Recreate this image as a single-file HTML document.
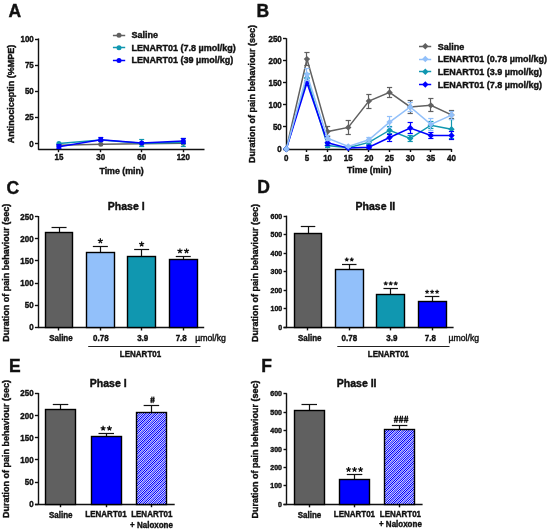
<!DOCTYPE html><html><head><meta charset="utf-8"><style>html,body{margin:0;padding:0;background:#fff;}svg{display:block;will-change:transform;filter:blur(0.3px);}text{font-family:"Liberation Sans",sans-serif;fill:#111;stroke:#111;stroke-width:0.4px;}</style></head><body>
<svg width="550" height="531" viewBox="0 0 550 531">
<defs><pattern id="chk" patternUnits="userSpaceOnUse" width="2" height="2"><rect width="2" height="2" fill="#d0d0ff"/><rect width="1" height="1" fill="#0000ff"/><rect x="1" y="1" width="1" height="1" fill="#0000ff"/></pattern><pattern id="stripe" patternUnits="userSpaceOnUse" width="4.6" height="4.6" patternTransform="rotate(45)"><rect width="1.6" height="4.6" fill="#8080ff"/></pattern></defs>
<rect width="550" height="531" fill="#fff"/>
<text x="8.60" y="17.00" font-size="17.5" text-anchor="start" font-weight="bold" >A</text>
<text x="256.40" y="16.70" font-size="17.5" text-anchor="start" font-weight="bold" >B</text>
<text x="6.40" y="193.60" font-size="17.5" text-anchor="start" font-weight="bold" >C</text>
<text x="257.20" y="192.90" font-size="17.5" text-anchor="start" font-weight="bold" >D</text>
<text x="9.00" y="372.40" font-size="17.5" text-anchor="start" font-weight="bold" >E</text>
<text x="261.20" y="372.10" font-size="17.5" text-anchor="start" font-weight="bold" >F</text>
<line x1="38.50" y1="38.40" x2="38.50" y2="149.80" stroke="#111" stroke-width="1.4"/>
<line x1="35.00" y1="39.50" x2="38.30" y2="39.50" stroke="#111" stroke-width="1.4"/>
<text transform="translate(33.80,41.90) scale(0.93,1)" font-size="8.6" text-anchor="end" font-weight="bold" >100</text>
<line x1="35.00" y1="65.50" x2="38.30" y2="65.50" stroke="#111" stroke-width="1.4"/>
<text transform="translate(33.80,68.08) scale(0.93,1)" font-size="8.6" text-anchor="end" font-weight="bold" >75</text>
<line x1="35.00" y1="91.50" x2="38.30" y2="91.50" stroke="#111" stroke-width="1.4"/>
<text transform="translate(33.80,94.25) scale(0.93,1)" font-size="8.6" text-anchor="end" font-weight="bold" >50</text>
<line x1="35.00" y1="117.50" x2="38.30" y2="117.50" stroke="#111" stroke-width="1.4"/>
<text transform="translate(33.80,120.42) scale(0.93,1)" font-size="8.6" text-anchor="end" font-weight="bold" >25</text>
<line x1="35.00" y1="143.50" x2="38.30" y2="143.50" stroke="#111" stroke-width="1.4"/>
<text transform="translate(33.80,146.60) scale(0.93,1)" font-size="8.6" text-anchor="end" font-weight="bold" >0</text>
<line x1="38.30" y1="149.50" x2="204.50" y2="149.50" stroke="#111" stroke-width="1.4"/>
<line x1="58.50" y1="149.20" x2="58.50" y2="152.20" stroke="#111" stroke-width="1.4"/>
<line x1="100.50" y1="149.20" x2="100.50" y2="152.20" stroke="#111" stroke-width="1.4"/>
<line x1="141.50" y1="149.20" x2="141.50" y2="152.20" stroke="#111" stroke-width="1.4"/>
<line x1="183.50" y1="149.20" x2="183.50" y2="152.20" stroke="#111" stroke-width="1.4"/>
<text transform="translate(58.90,160.30) scale(0.93,1)" font-size="8.6" text-anchor="middle" font-weight="bold" >15</text>
<text transform="translate(100.80,160.30) scale(0.93,1)" font-size="8.6" text-anchor="middle" font-weight="bold" >30</text>
<text transform="translate(141.70,160.30) scale(0.93,1)" font-size="8.6" text-anchor="middle" font-weight="bold" >60</text>
<text transform="translate(183.30,160.30) scale(0.93,1)" font-size="8.6" text-anchor="middle" font-weight="bold" >120</text>
<text x="121.60" y="173.80" font-size="8.8" text-anchor="middle" font-weight="bold" >Time (min)</text>
<text transform="translate(13.80,94.00) rotate(-90)" font-size="9" text-anchor="middle" font-weight="bold">Antinociceptin (%MPE)</text>
<polyline points="58.90,145.17 100.80,144.22 141.70,143.70 183.30,143.18" fill="none" stroke="#606060" stroke-width="1.5"/>
<circle cx="58.90" cy="145.17" r="2.5" fill="#606060"/>
<circle cx="100.80" cy="144.22" r="2.5" fill="#606060"/>
<circle cx="141.70" cy="143.70" r="2.5" fill="#606060"/>
<circle cx="183.30" cy="143.18" r="2.5" fill="#606060"/>
<polyline points="58.90,143.49 100.80,139.93 141.70,143.18 183.30,142.13" fill="none" stroke="#1097b0" stroke-width="1.5"/>
<circle cx="58.90" cy="143.49" r="2.5" fill="#1097b0"/>
<circle cx="100.80" cy="139.93" r="2.5" fill="#1097b0"/>
<line x1="141.50" y1="139.41" x2="141.50" y2="146.95" stroke="#1097b0" stroke-width="1.2"/>
<line x1="139.20" y1="139.50" x2="144.20" y2="139.50" stroke="#1097b0" stroke-width="1.2"/>
<line x1="139.20" y1="146.50" x2="144.20" y2="146.50" stroke="#1097b0" stroke-width="1.2"/>
<circle cx="141.70" cy="143.18" r="2.5" fill="#1097b0"/>
<line x1="183.50" y1="138.15" x2="183.50" y2="146.11" stroke="#1097b0" stroke-width="1.2"/>
<line x1="180.80" y1="138.50" x2="185.80" y2="138.50" stroke="#1097b0" stroke-width="1.2"/>
<line x1="180.80" y1="146.50" x2="185.80" y2="146.50" stroke="#1097b0" stroke-width="1.2"/>
<circle cx="183.30" cy="142.13" r="2.5" fill="#1097b0"/>
<polyline points="58.90,146.74 100.80,139.72 141.70,143.07 183.30,141.08" fill="none" stroke="#0000ff" stroke-width="1.5"/>
<line x1="58.50" y1="144.96" x2="58.50" y2="148.52" stroke="#0000ff" stroke-width="1.2"/>
<line x1="56.40" y1="144.50" x2="61.40" y2="144.50" stroke="#0000ff" stroke-width="1.2"/>
<line x1="56.40" y1="148.50" x2="61.40" y2="148.50" stroke="#0000ff" stroke-width="1.2"/>
<circle cx="58.90" cy="146.74" r="2.5" fill="#0000ff"/>
<line x1="100.50" y1="137.63" x2="100.50" y2="141.82" stroke="#0000ff" stroke-width="1.2"/>
<line x1="98.30" y1="137.50" x2="103.30" y2="137.50" stroke="#0000ff" stroke-width="1.2"/>
<line x1="98.30" y1="141.50" x2="103.30" y2="141.50" stroke="#0000ff" stroke-width="1.2"/>
<circle cx="100.80" cy="139.72" r="2.5" fill="#0000ff"/>
<circle cx="141.70" cy="143.07" r="2.5" fill="#0000ff"/>
<line x1="183.50" y1="138.26" x2="183.50" y2="143.91" stroke="#0000ff" stroke-width="1.2"/>
<line x1="180.80" y1="138.50" x2="185.80" y2="138.50" stroke="#0000ff" stroke-width="1.2"/>
<line x1="180.80" y1="143.50" x2="185.80" y2="143.50" stroke="#0000ff" stroke-width="1.2"/>
<circle cx="183.30" cy="141.08" r="2.5" fill="#0000ff"/>
<line x1="112.90" y1="35.50" x2="125.20" y2="35.50" stroke="#606060" stroke-width="1.5"/>
<circle cx="119.00" cy="35.30" r="2.5" fill="#606060"/>
<text x="131.60" y="38.30" font-size="9" text-anchor="start" font-weight="bold" >Saline</text>
<line x1="112.90" y1="47.50" x2="125.20" y2="47.50" stroke="#1097b0" stroke-width="1.5"/>
<circle cx="119.00" cy="47.85" r="2.5" fill="#1097b0"/>
<text x="131.60" y="50.85" font-size="9" text-anchor="start" font-weight="bold" >LENART01 (7.8 µmol/kg)</text>
<line x1="112.90" y1="60.50" x2="125.20" y2="60.50" stroke="#0000ff" stroke-width="1.5"/>
<circle cx="119.00" cy="60.40" r="2.5" fill="#0000ff"/>
<text x="131.60" y="63.40" font-size="9" text-anchor="start" font-weight="bold" >LENART01 (39 µmol/kg)</text>
<line x1="286.50" y1="38.20" x2="286.50" y2="149.60" stroke="#111" stroke-width="1.4"/>
<line x1="283.00" y1="38.50" x2="286.30" y2="38.50" stroke="#111" stroke-width="1.4"/>
<text transform="translate(281.80,41.70) scale(0.93,1)" font-size="8.6" text-anchor="end" font-weight="bold" >250</text>
<line x1="283.00" y1="60.50" x2="286.30" y2="60.50" stroke="#111" stroke-width="1.4"/>
<text transform="translate(281.80,63.74) scale(0.93,1)" font-size="8.6" text-anchor="end" font-weight="bold" >200</text>
<line x1="283.00" y1="82.50" x2="286.30" y2="82.50" stroke="#111" stroke-width="1.4"/>
<text transform="translate(281.80,85.78) scale(0.93,1)" font-size="8.6" text-anchor="end" font-weight="bold" >150</text>
<line x1="283.00" y1="104.50" x2="286.30" y2="104.50" stroke="#111" stroke-width="1.4"/>
<text transform="translate(281.80,107.82) scale(0.93,1)" font-size="8.6" text-anchor="end" font-weight="bold" >100</text>
<line x1="283.00" y1="126.50" x2="286.30" y2="126.50" stroke="#111" stroke-width="1.4"/>
<text transform="translate(281.80,129.86) scale(0.93,1)" font-size="8.6" text-anchor="end" font-weight="bold" >50</text>
<line x1="283.00" y1="149.50" x2="286.30" y2="149.50" stroke="#111" stroke-width="1.4"/>
<text transform="translate(281.80,151.90) scale(0.93,1)" font-size="8.6" text-anchor="end" font-weight="bold" >0</text>
<line x1="286.30" y1="149.50" x2="451.50" y2="149.50" stroke="#111" stroke-width="1.4"/>
<line x1="306.50" y1="149.00" x2="306.50" y2="152.00" stroke="#111" stroke-width="1.4"/>
<line x1="327.50" y1="149.00" x2="327.50" y2="152.00" stroke="#111" stroke-width="1.4"/>
<line x1="348.50" y1="149.00" x2="348.50" y2="152.00" stroke="#111" stroke-width="1.4"/>
<line x1="368.50" y1="149.00" x2="368.50" y2="152.00" stroke="#111" stroke-width="1.4"/>
<line x1="389.50" y1="149.00" x2="389.50" y2="152.00" stroke="#111" stroke-width="1.4"/>
<line x1="410.50" y1="149.00" x2="410.50" y2="152.00" stroke="#111" stroke-width="1.4"/>
<line x1="430.50" y1="149.00" x2="430.50" y2="152.00" stroke="#111" stroke-width="1.4"/>
<line x1="451.50" y1="149.00" x2="451.50" y2="152.00" stroke="#111" stroke-width="1.4"/>
<line x1="286.50" y1="149.00" x2="286.50" y2="152.00" stroke="#111" stroke-width="1.4"/>
<text transform="translate(286.30,160.90) scale(0.93,1)" font-size="8.6" text-anchor="middle" font-weight="bold" >0</text>
<text transform="translate(306.95,160.90) scale(0.93,1)" font-size="8.6" text-anchor="middle" font-weight="bold" >5</text>
<text transform="translate(327.60,160.90) scale(0.93,1)" font-size="8.6" text-anchor="middle" font-weight="bold" >10</text>
<text transform="translate(348.25,160.90) scale(0.93,1)" font-size="8.6" text-anchor="middle" font-weight="bold" >15</text>
<text transform="translate(368.90,160.90) scale(0.93,1)" font-size="8.6" text-anchor="middle" font-weight="bold" >20</text>
<text transform="translate(389.55,160.90) scale(0.93,1)" font-size="8.6" text-anchor="middle" font-weight="bold" >25</text>
<text transform="translate(410.20,160.90) scale(0.93,1)" font-size="8.6" text-anchor="middle" font-weight="bold" >30</text>
<text transform="translate(430.85,160.90) scale(0.93,1)" font-size="8.6" text-anchor="middle" font-weight="bold" >35</text>
<text transform="translate(451.50,160.90) scale(0.93,1)" font-size="8.6" text-anchor="middle" font-weight="bold" >40</text>
<text x="369.20" y="172.70" font-size="8.8" text-anchor="middle" font-weight="bold" >Time (min)</text>
<text transform="translate(255.20,94.00) rotate(-90)" font-size="9" text-anchor="middle" font-weight="bold">Duration of pain behaviour (sec)</text>
<polyline points="286.30,149.00 306.95,59.08 327.60,131.59 348.25,127.40 368.90,101.09 389.55,92.40 410.20,106.90 430.85,105.36 451.50,114.88" fill="none" stroke="#606060" stroke-width="1.5"/>
<path d="M286.30 145.80L289.50 149.00L286.30 152.20L283.10 149.00Z" fill="#606060"/>
<line x1="306.50" y1="52.91" x2="306.50" y2="65.25" stroke="#606060" stroke-width="1.2"/>
<line x1="304.35" y1="52.50" x2="309.55" y2="52.50" stroke="#606060" stroke-width="1.2"/>
<line x1="304.35" y1="65.50" x2="309.55" y2="65.50" stroke="#606060" stroke-width="1.2"/>
<path d="M306.95 55.88L310.15 59.08L306.95 62.28L303.75 59.08Z" fill="#606060"/>
<line x1="327.50" y1="126.74" x2="327.50" y2="136.44" stroke="#606060" stroke-width="1.2"/>
<line x1="325.00" y1="126.50" x2="330.20" y2="126.50" stroke="#606060" stroke-width="1.2"/>
<line x1="325.00" y1="136.50" x2="330.20" y2="136.50" stroke="#606060" stroke-width="1.2"/>
<path d="M327.60 128.39L330.80 131.59L327.60 134.79L324.40 131.59Z" fill="#606060"/>
<line x1="348.50" y1="120.35" x2="348.50" y2="134.45" stroke="#606060" stroke-width="1.2"/>
<line x1="345.65" y1="120.50" x2="350.85" y2="120.50" stroke="#606060" stroke-width="1.2"/>
<line x1="345.65" y1="134.50" x2="350.85" y2="134.50" stroke="#606060" stroke-width="1.2"/>
<path d="M348.25 124.20L351.45 127.40L348.25 130.60L345.05 127.40Z" fill="#606060"/>
<line x1="368.50" y1="94.03" x2="368.50" y2="108.14" stroke="#606060" stroke-width="1.2"/>
<line x1="366.30" y1="94.50" x2="371.50" y2="94.50" stroke="#606060" stroke-width="1.2"/>
<line x1="366.30" y1="108.50" x2="371.50" y2="108.50" stroke="#606060" stroke-width="1.2"/>
<path d="M368.90 97.89L372.10 101.09L368.90 104.29L365.70 101.09Z" fill="#606060"/>
<line x1="389.50" y1="87.55" x2="389.50" y2="97.25" stroke="#606060" stroke-width="1.2"/>
<line x1="386.95" y1="87.50" x2="392.15" y2="87.50" stroke="#606060" stroke-width="1.2"/>
<line x1="386.95" y1="97.50" x2="392.15" y2="97.50" stroke="#606060" stroke-width="1.2"/>
<path d="M389.55 89.20L392.75 92.40L389.55 95.60L386.35 92.40Z" fill="#606060"/>
<line x1="410.50" y1="100.29" x2="410.50" y2="113.52" stroke="#606060" stroke-width="1.2"/>
<line x1="407.60" y1="100.50" x2="412.80" y2="100.50" stroke="#606060" stroke-width="1.2"/>
<line x1="407.60" y1="113.50" x2="412.80" y2="113.50" stroke="#606060" stroke-width="1.2"/>
<path d="M410.20 103.70L413.40 106.90L410.20 110.10L407.00 106.90Z" fill="#606060"/>
<line x1="430.50" y1="98.75" x2="430.50" y2="111.97" stroke="#606060" stroke-width="1.2"/>
<line x1="428.25" y1="98.50" x2="433.45" y2="98.50" stroke="#606060" stroke-width="1.2"/>
<line x1="428.25" y1="111.50" x2="433.45" y2="111.50" stroke="#606060" stroke-width="1.2"/>
<path d="M430.85 102.16L434.05 105.36L430.85 108.56L427.65 105.36Z" fill="#606060"/>
<line x1="451.50" y1="110.91" x2="451.50" y2="118.85" stroke="#606060" stroke-width="1.2"/>
<line x1="448.90" y1="110.50" x2="454.10" y2="110.50" stroke="#606060" stroke-width="1.2"/>
<line x1="448.90" y1="118.50" x2="454.10" y2="118.50" stroke="#606060" stroke-width="1.2"/>
<path d="M451.50 111.68L454.70 114.88L451.50 118.08L448.30 114.88Z" fill="#606060"/>
<polyline points="286.30,149.00 306.95,78.03 327.60,145.47 348.25,147.68 368.90,142.39 389.55,130.22 410.20,138.42 430.85,125.20 451.50,129.16" fill="none" stroke="#1097b0" stroke-width="1.5"/>
<path d="M286.30 145.80L289.50 149.00L286.30 152.20L283.10 149.00Z" fill="#1097b0"/>
<line x1="306.50" y1="73.18" x2="306.50" y2="82.88" stroke="#1097b0" stroke-width="1.2"/>
<line x1="304.35" y1="73.50" x2="309.55" y2="73.50" stroke="#1097b0" stroke-width="1.2"/>
<line x1="304.35" y1="82.50" x2="309.55" y2="82.50" stroke="#1097b0" stroke-width="1.2"/>
<path d="M306.95 74.83L310.15 78.03L306.95 81.23L303.75 78.03Z" fill="#1097b0"/>
<line x1="327.50" y1="143.71" x2="327.50" y2="147.24" stroke="#1097b0" stroke-width="1.2"/>
<line x1="325.00" y1="143.50" x2="330.20" y2="143.50" stroke="#1097b0" stroke-width="1.2"/>
<line x1="325.00" y1="147.50" x2="330.20" y2="147.50" stroke="#1097b0" stroke-width="1.2"/>
<path d="M327.60 142.27L330.80 145.47L327.60 148.67L324.40 145.47Z" fill="#1097b0"/>
<line x1="348.50" y1="146.80" x2="348.50" y2="148.56" stroke="#1097b0" stroke-width="1.2"/>
<line x1="345.65" y1="146.50" x2="350.85" y2="146.50" stroke="#1097b0" stroke-width="1.2"/>
<line x1="345.65" y1="148.50" x2="350.85" y2="148.50" stroke="#1097b0" stroke-width="1.2"/>
<path d="M348.25 144.48L351.45 147.68L348.25 150.88L345.05 147.68Z" fill="#1097b0"/>
<line x1="368.50" y1="140.62" x2="368.50" y2="144.15" stroke="#1097b0" stroke-width="1.2"/>
<line x1="366.30" y1="140.50" x2="371.50" y2="140.50" stroke="#1097b0" stroke-width="1.2"/>
<line x1="366.30" y1="144.50" x2="371.50" y2="144.50" stroke="#1097b0" stroke-width="1.2"/>
<path d="M368.90 139.19L372.10 142.39L368.90 145.59L365.70 142.39Z" fill="#1097b0"/>
<line x1="389.50" y1="126.70" x2="389.50" y2="133.75" stroke="#1097b0" stroke-width="1.2"/>
<line x1="386.95" y1="126.50" x2="392.15" y2="126.50" stroke="#1097b0" stroke-width="1.2"/>
<line x1="386.95" y1="133.50" x2="392.15" y2="133.50" stroke="#1097b0" stroke-width="1.2"/>
<path d="M389.55 127.02L392.75 130.22L389.55 133.42L386.35 130.22Z" fill="#1097b0"/>
<line x1="410.50" y1="135.78" x2="410.50" y2="141.07" stroke="#1097b0" stroke-width="1.2"/>
<line x1="407.60" y1="135.50" x2="412.80" y2="135.50" stroke="#1097b0" stroke-width="1.2"/>
<line x1="407.60" y1="141.50" x2="412.80" y2="141.50" stroke="#1097b0" stroke-width="1.2"/>
<path d="M410.20 135.22L413.40 138.42L410.20 141.62L407.00 138.42Z" fill="#1097b0"/>
<line x1="430.50" y1="121.67" x2="430.50" y2="128.72" stroke="#1097b0" stroke-width="1.2"/>
<line x1="428.25" y1="121.50" x2="433.45" y2="121.50" stroke="#1097b0" stroke-width="1.2"/>
<line x1="428.25" y1="128.50" x2="433.45" y2="128.50" stroke="#1097b0" stroke-width="1.2"/>
<path d="M430.85 122.00L434.05 125.20L430.85 128.40L427.65 125.20Z" fill="#1097b0"/>
<line x1="451.50" y1="119.47" x2="451.50" y2="138.86" stroke="#1097b0" stroke-width="1.2"/>
<line x1="448.90" y1="119.50" x2="454.10" y2="119.50" stroke="#1097b0" stroke-width="1.2"/>
<line x1="448.90" y1="138.50" x2="454.10" y2="138.50" stroke="#1097b0" stroke-width="1.2"/>
<path d="M451.50 125.96L454.70 129.16L451.50 132.36L448.30 129.16Z" fill="#1097b0"/>
<polyline points="286.30,149.00 306.95,82.70 327.60,142.83 348.25,148.12 368.90,147.24 389.55,137.54 410.20,128.02 430.85,135.51 451.50,135.51" fill="none" stroke="#0000ff" stroke-width="1.5"/>
<path d="M286.30 145.80L289.50 149.00L286.30 152.20L283.10 149.00Z" fill="#0000ff"/>
<line x1="306.50" y1="80.06" x2="306.50" y2="85.35" stroke="#0000ff" stroke-width="1.2"/>
<line x1="304.35" y1="80.50" x2="309.55" y2="80.50" stroke="#0000ff" stroke-width="1.2"/>
<line x1="304.35" y1="85.50" x2="309.55" y2="85.50" stroke="#0000ff" stroke-width="1.2"/>
<path d="M306.95 79.50L310.15 82.70L306.95 85.90L303.75 82.70Z" fill="#0000ff"/>
<line x1="327.50" y1="140.62" x2="327.50" y2="145.03" stroke="#0000ff" stroke-width="1.2"/>
<line x1="325.00" y1="140.50" x2="330.20" y2="140.50" stroke="#0000ff" stroke-width="1.2"/>
<line x1="325.00" y1="145.50" x2="330.20" y2="145.50" stroke="#0000ff" stroke-width="1.2"/>
<path d="M327.60 139.63L330.80 142.83L327.60 146.03L324.40 142.83Z" fill="#0000ff"/>
<line x1="348.50" y1="147.68" x2="348.50" y2="148.56" stroke="#0000ff" stroke-width="1.2"/>
<line x1="345.65" y1="147.50" x2="350.85" y2="147.50" stroke="#0000ff" stroke-width="1.2"/>
<line x1="345.65" y1="148.50" x2="350.85" y2="148.50" stroke="#0000ff" stroke-width="1.2"/>
<path d="M348.25 144.92L351.45 148.12L348.25 151.32L345.05 148.12Z" fill="#0000ff"/>
<line x1="368.50" y1="145.91" x2="368.50" y2="148.56" stroke="#0000ff" stroke-width="1.2"/>
<line x1="366.30" y1="145.50" x2="371.50" y2="145.50" stroke="#0000ff" stroke-width="1.2"/>
<line x1="366.30" y1="148.50" x2="371.50" y2="148.50" stroke="#0000ff" stroke-width="1.2"/>
<path d="M368.90 144.04L372.10 147.24L368.90 150.44L365.70 147.24Z" fill="#0000ff"/>
<line x1="389.50" y1="134.01" x2="389.50" y2="141.07" stroke="#0000ff" stroke-width="1.2"/>
<line x1="386.95" y1="134.50" x2="392.15" y2="134.50" stroke="#0000ff" stroke-width="1.2"/>
<line x1="386.95" y1="141.50" x2="392.15" y2="141.50" stroke="#0000ff" stroke-width="1.2"/>
<path d="M389.55 134.34L392.75 137.54L389.55 140.74L386.35 137.54Z" fill="#0000ff"/>
<line x1="410.50" y1="122.73" x2="410.50" y2="133.31" stroke="#0000ff" stroke-width="1.2"/>
<line x1="407.60" y1="122.50" x2="412.80" y2="122.50" stroke="#0000ff" stroke-width="1.2"/>
<line x1="407.60" y1="133.50" x2="412.80" y2="133.50" stroke="#0000ff" stroke-width="1.2"/>
<path d="M410.20 124.82L413.40 128.02L410.20 131.22L407.00 128.02Z" fill="#0000ff"/>
<line x1="430.50" y1="132.87" x2="430.50" y2="138.16" stroke="#0000ff" stroke-width="1.2"/>
<line x1="428.25" y1="132.50" x2="433.45" y2="132.50" stroke="#0000ff" stroke-width="1.2"/>
<line x1="428.25" y1="138.50" x2="433.45" y2="138.50" stroke="#0000ff" stroke-width="1.2"/>
<path d="M430.85 132.31L434.05 135.51L430.85 138.71L427.65 135.51Z" fill="#0000ff"/>
<line x1="451.50" y1="131.10" x2="451.50" y2="139.92" stroke="#0000ff" stroke-width="1.2"/>
<line x1="448.90" y1="131.50" x2="454.10" y2="131.50" stroke="#0000ff" stroke-width="1.2"/>
<line x1="448.90" y1="139.50" x2="454.10" y2="139.50" stroke="#0000ff" stroke-width="1.2"/>
<path d="M451.50 132.31L454.70 135.51L451.50 138.71L448.30 135.51Z" fill="#0000ff"/>
<polyline points="286.30,149.00 306.95,74.50 327.60,138.20 348.25,146.36 368.90,139.74 389.55,122.11 410.20,106.90 430.85,124.32 451.50,115.06" fill="none" stroke="#92c0fa" stroke-width="1.5"/>
<path d="M286.30 145.80L289.50 149.00L286.30 152.20L283.10 149.00Z" fill="#92c0fa"/>
<line x1="306.50" y1="68.33" x2="306.50" y2="80.68" stroke="#92c0fa" stroke-width="1.2"/>
<line x1="304.35" y1="68.50" x2="309.55" y2="68.50" stroke="#92c0fa" stroke-width="1.2"/>
<line x1="304.35" y1="80.50" x2="309.55" y2="80.50" stroke="#92c0fa" stroke-width="1.2"/>
<path d="M306.95 71.30L310.15 74.50L306.95 77.70L303.75 74.50Z" fill="#92c0fa"/>
<line x1="327.50" y1="135.56" x2="327.50" y2="140.85" stroke="#92c0fa" stroke-width="1.2"/>
<line x1="325.00" y1="135.50" x2="330.20" y2="135.50" stroke="#92c0fa" stroke-width="1.2"/>
<line x1="325.00" y1="140.50" x2="330.20" y2="140.50" stroke="#92c0fa" stroke-width="1.2"/>
<path d="M327.60 135.00L330.80 138.20L327.60 141.40L324.40 138.20Z" fill="#92c0fa"/>
<line x1="348.50" y1="145.47" x2="348.50" y2="147.24" stroke="#92c0fa" stroke-width="1.2"/>
<line x1="345.65" y1="145.50" x2="350.85" y2="145.50" stroke="#92c0fa" stroke-width="1.2"/>
<line x1="345.65" y1="147.50" x2="350.85" y2="147.50" stroke="#92c0fa" stroke-width="1.2"/>
<path d="M348.25 143.16L351.45 146.36L348.25 149.56L345.05 146.36Z" fill="#92c0fa"/>
<line x1="368.50" y1="137.10" x2="368.50" y2="142.39" stroke="#92c0fa" stroke-width="1.2"/>
<line x1="366.30" y1="137.50" x2="371.50" y2="137.50" stroke="#92c0fa" stroke-width="1.2"/>
<line x1="366.30" y1="142.50" x2="371.50" y2="142.50" stroke="#92c0fa" stroke-width="1.2"/>
<path d="M368.90 136.54L372.10 139.74L368.90 142.94L365.70 139.74Z" fill="#92c0fa"/>
<line x1="389.50" y1="116.82" x2="389.50" y2="127.40" stroke="#92c0fa" stroke-width="1.2"/>
<line x1="386.95" y1="116.50" x2="392.15" y2="116.50" stroke="#92c0fa" stroke-width="1.2"/>
<line x1="386.95" y1="127.50" x2="392.15" y2="127.50" stroke="#92c0fa" stroke-width="1.2"/>
<path d="M389.55 118.91L392.75 122.11L389.55 125.31L386.35 122.11Z" fill="#92c0fa"/>
<line x1="410.50" y1="102.50" x2="410.50" y2="111.31" stroke="#92c0fa" stroke-width="1.2"/>
<line x1="407.60" y1="102.50" x2="412.80" y2="102.50" stroke="#92c0fa" stroke-width="1.2"/>
<line x1="407.60" y1="111.50" x2="412.80" y2="111.50" stroke="#92c0fa" stroke-width="1.2"/>
<path d="M410.20 103.70L413.40 106.90L410.20 110.10L407.00 106.90Z" fill="#92c0fa"/>
<line x1="430.50" y1="118.14" x2="430.50" y2="130.49" stroke="#92c0fa" stroke-width="1.2"/>
<line x1="428.25" y1="118.50" x2="433.45" y2="118.50" stroke="#92c0fa" stroke-width="1.2"/>
<line x1="428.25" y1="130.50" x2="433.45" y2="130.50" stroke="#92c0fa" stroke-width="1.2"/>
<path d="M430.85 121.12L434.05 124.32L430.85 127.52L427.65 124.32Z" fill="#92c0fa"/>
<line x1="451.50" y1="111.09" x2="451.50" y2="119.03" stroke="#92c0fa" stroke-width="1.2"/>
<line x1="448.90" y1="111.50" x2="454.10" y2="111.50" stroke="#92c0fa" stroke-width="1.2"/>
<line x1="448.90" y1="119.50" x2="454.10" y2="119.50" stroke="#92c0fa" stroke-width="1.2"/>
<path d="M451.50 111.86L454.70 115.06L451.50 118.26L448.30 115.06Z" fill="#92c0fa"/>
<line x1="419.00" y1="46.50" x2="431.20" y2="46.50" stroke="#606060" stroke-width="1.5"/>
<path d="M425.30 43.10L428.50 46.30L425.30 49.50L422.10 46.30Z" fill="#606060"/>
<text x="437.80" y="49.60" font-size="9" text-anchor="start" font-weight="bold" >Saline</text>
<line x1="419.00" y1="59.50" x2="431.20" y2="59.50" stroke="#92c0fa" stroke-width="1.5"/>
<path d="M425.30 55.83L428.50 59.03L425.30 62.23L422.10 59.03Z" fill="#92c0fa"/>
<text x="437.80" y="62.33" font-size="9" text-anchor="start" font-weight="bold" >LENART01 (0.78 µmol/kg)</text>
<line x1="419.00" y1="71.50" x2="431.20" y2="71.50" stroke="#1097b0" stroke-width="1.5"/>
<path d="M425.30 68.56L428.50 71.76L425.30 74.96L422.10 71.76Z" fill="#1097b0"/>
<text x="437.80" y="75.06" font-size="9" text-anchor="start" font-weight="bold" >LENART01 (3.9 µmol/kg)</text>
<line x1="419.00" y1="84.50" x2="431.20" y2="84.50" stroke="#0000ff" stroke-width="1.5"/>
<path d="M425.30 81.29L428.50 84.49L425.30 87.69L422.10 84.49Z" fill="#0000ff"/>
<text x="437.80" y="87.79" font-size="9" text-anchor="start" font-weight="bold" >LENART01 (7.8 µmol/kg)</text>
<line x1="38.50" y1="216.00" x2="38.50" y2="328.10" stroke="#111" stroke-width="1.4"/>
<line x1="34.90" y1="216.50" x2="38.20" y2="216.50" stroke="#111" stroke-width="1.4"/>
<text transform="translate(33.70,219.50) scale(0.93,1)" font-size="8.6" text-anchor="end" font-weight="bold" >250</text>
<line x1="34.90" y1="238.50" x2="38.20" y2="238.50" stroke="#111" stroke-width="1.4"/>
<text transform="translate(33.70,241.68) scale(0.93,1)" font-size="8.6" text-anchor="end" font-weight="bold" >200</text>
<line x1="34.90" y1="260.50" x2="38.20" y2="260.50" stroke="#111" stroke-width="1.4"/>
<text transform="translate(33.70,263.86) scale(0.93,1)" font-size="8.6" text-anchor="end" font-weight="bold" >150</text>
<line x1="34.90" y1="283.50" x2="38.20" y2="283.50" stroke="#111" stroke-width="1.4"/>
<text transform="translate(33.70,286.04) scale(0.93,1)" font-size="8.6" text-anchor="end" font-weight="bold" >100</text>
<line x1="34.90" y1="305.50" x2="38.20" y2="305.50" stroke="#111" stroke-width="1.4"/>
<text transform="translate(33.70,308.22) scale(0.93,1)" font-size="8.6" text-anchor="end" font-weight="bold" >50</text>
<line x1="34.90" y1="327.50" x2="38.20" y2="327.50" stroke="#111" stroke-width="1.4"/>
<text transform="translate(33.70,330.40) scale(0.93,1)" font-size="8.6" text-anchor="end" font-weight="bold" >0</text>
<line x1="38.20" y1="327.50" x2="204.20" y2="327.50" stroke="#111" stroke-width="1.4"/>
<line x1="58.50" y1="327.50" x2="58.50" y2="330.50" stroke="#111" stroke-width="1.4"/>
<line x1="100.50" y1="327.50" x2="100.50" y2="330.50" stroke="#111" stroke-width="1.4"/>
<line x1="141.50" y1="327.50" x2="141.50" y2="330.50" stroke="#111" stroke-width="1.4"/>
<line x1="183.50" y1="327.50" x2="183.50" y2="330.50" stroke="#111" stroke-width="1.4"/>
<line x1="59.50" y1="227.51" x2="59.50" y2="232.30" stroke="#111" stroke-width="1.2"/>
<line x1="51.55" y1="227.50" x2="66.55" y2="227.50" stroke="#111" stroke-width="1.2"/>
<rect x="45.50" y="232.50" width="27.00" height="95.00" fill="#606060" stroke="#000" stroke-width="1.4"/>
<line x1="100.50" y1="246.06" x2="100.50" y2="252.71" stroke="#111" stroke-width="1.2"/>
<line x1="92.85" y1="246.50" x2="107.85" y2="246.50" stroke="#111" stroke-width="1.2"/>
<rect x="86.50" y="252.50" width="28.00" height="75.00" fill="#92c0fa" stroke="#000" stroke-width="1.4"/>
<path d="M100.35 241.01L100.35 238.36M100.35 241.01L102.87 240.19M100.35 241.01L101.91 243.15M100.35 241.01L98.79 243.15M100.35 241.01L97.83 240.19" stroke="#111" stroke-width="1.25" fill="none"/>
<line x1="141.50" y1="249.25" x2="141.50" y2="256.08" stroke="#111" stroke-width="1.2"/>
<line x1="134.15" y1="249.50" x2="149.15" y2="249.50" stroke="#111" stroke-width="1.2"/>
<rect x="127.50" y="256.50" width="28.00" height="71.00" fill="#1097b0" stroke="#000" stroke-width="1.4"/>
<path d="M141.65 244.20L141.65 241.55M141.65 244.20L144.17 243.38M141.65 244.20L143.21 246.35M141.65 244.20L140.09 246.35M141.65 244.20L139.13 243.38" stroke="#111" stroke-width="1.25" fill="none"/>
<line x1="183.50" y1="256.08" x2="183.50" y2="259.19" stroke="#111" stroke-width="1.2"/>
<line x1="175.75" y1="256.50" x2="190.75" y2="256.50" stroke="#111" stroke-width="1.2"/>
<rect x="169.50" y="259.50" width="28.00" height="68.00" fill="#0000ff" stroke="#000" stroke-width="1.4"/>
<path d="M179.95 251.03L179.95 248.38M179.95 251.03L182.47 250.22M179.95 251.03L181.51 253.18M179.95 251.03L178.39 253.18M179.95 251.03L177.43 250.22" stroke="#111" stroke-width="1.25" fill="none"/>
<path d="M186.55 251.03L186.55 248.38M186.55 251.03L189.07 250.22M186.55 251.03L188.11 253.18M186.55 251.03L184.99 253.18M186.55 251.03L184.03 250.22" stroke="#111" stroke-width="1.25" fill="none"/>
<text transform="translate(60.90,340.60) scale(0.93,1)" font-size="8.6" text-anchor="middle" font-weight="bold" >Saline</text>
<text transform="translate(100.90,340.60) scale(0.93,1)" font-size="8.6" text-anchor="middle" font-weight="bold" >0.78</text>
<text transform="translate(142.70,340.60) scale(0.93,1)" font-size="8.6" text-anchor="middle" font-weight="bold" >3.9</text>
<text transform="translate(181.20,340.60) scale(0.93,1)" font-size="8.6" text-anchor="middle" font-weight="bold" >7.8</text>
<text x="195.30" y="340.60" font-size="8.7" text-anchor="start" font-weight="normal" >µmol/kg</text>
<line x1="88.20" y1="346.50" x2="200.50" y2="346.50" stroke="#222" stroke-width="1.0"/>
<text transform="translate(140.50,356.90) scale(0.93,1)" font-size="8.6" text-anchor="middle" font-weight="bold" >LENART01</text>
<text x="126.20" y="209.60" font-size="10.5" text-anchor="middle" font-weight="bold" >Phase I</text>
<text transform="translate(9.40,272.80) rotate(-90)" font-size="9" text-anchor="middle" font-weight="bold">Duration of pain behaviour (sec)</text>
<line x1="286.50" y1="215.70" x2="286.50" y2="328.00" stroke="#111" stroke-width="1.4"/>
<line x1="283.60" y1="216.50" x2="286.90" y2="216.50" stroke="#111" stroke-width="1.4"/>
<text x="282.20" y="218.74" font-size="7" text-anchor="end" font-weight="bold" >600</text>
<line x1="283.60" y1="234.50" x2="286.90" y2="234.50" stroke="#111" stroke-width="1.4"/>
<text x="282.20" y="237.27" font-size="7" text-anchor="end" font-weight="bold" >500</text>
<line x1="283.60" y1="253.50" x2="286.90" y2="253.50" stroke="#111" stroke-width="1.4"/>
<text x="282.20" y="255.80" font-size="7" text-anchor="end" font-weight="bold" >400</text>
<line x1="283.60" y1="271.50" x2="286.90" y2="271.50" stroke="#111" stroke-width="1.4"/>
<text x="282.20" y="274.33" font-size="7" text-anchor="end" font-weight="bold" >300</text>
<line x1="283.60" y1="290.50" x2="286.90" y2="290.50" stroke="#111" stroke-width="1.4"/>
<text x="282.20" y="292.86" font-size="7" text-anchor="end" font-weight="bold" >200</text>
<line x1="283.60" y1="308.50" x2="286.90" y2="308.50" stroke="#111" stroke-width="1.4"/>
<text x="282.20" y="311.39" font-size="7" text-anchor="end" font-weight="bold" >100</text>
<line x1="283.60" y1="327.50" x2="286.90" y2="327.50" stroke="#111" stroke-width="1.4"/>
<text x="282.20" y="329.92" font-size="7" text-anchor="end" font-weight="bold" >0</text>
<line x1="283.50" y1="327.50" x2="453.60" y2="327.50" stroke="#111" stroke-width="1.4"/>
<line x1="307.50" y1="327.40" x2="307.50" y2="330.40" stroke="#111" stroke-width="1.4"/>
<line x1="349.50" y1="327.40" x2="349.50" y2="330.40" stroke="#111" stroke-width="1.4"/>
<line x1="390.50" y1="327.40" x2="390.50" y2="330.40" stroke="#111" stroke-width="1.4"/>
<line x1="432.50" y1="327.40" x2="432.50" y2="330.40" stroke="#111" stroke-width="1.4"/>
<line x1="308.50" y1="226.41" x2="308.50" y2="233.27" stroke="#111" stroke-width="1.2"/>
<line x1="300.80" y1="226.50" x2="315.30" y2="226.50" stroke="#111" stroke-width="1.2"/>
<rect x="294.50" y="233.50" width="27.00" height="94.00" fill="#606060" stroke="#000" stroke-width="1.4"/>
<line x1="349.50" y1="264.58" x2="349.50" y2="269.31" stroke="#111" stroke-width="1.2"/>
<line x1="342.00" y1="264.50" x2="356.50" y2="264.50" stroke="#111" stroke-width="1.2"/>
<rect x="335.50" y="269.50" width="28.00" height="58.00" fill="#92c0fa" stroke="#000" stroke-width="1.4"/>
<path d="M346.75 259.58L346.75 257.48M346.75 259.58L348.75 258.93M346.75 259.58L347.98 261.28M346.75 259.58L345.52 261.28M346.75 259.58L344.75 258.93" stroke="#111" stroke-width="1.15" fill="none"/>
<path d="M351.75 259.58L351.75 257.48M351.75 259.58L353.75 258.93M351.75 259.58L352.98 261.28M351.75 259.58L350.52 261.28M351.75 259.58L349.75 258.93" stroke="#111" stroke-width="1.15" fill="none"/>
<line x1="390.50" y1="288.49" x2="390.50" y2="294.42" stroke="#111" stroke-width="1.2"/>
<line x1="383.45" y1="288.50" x2="397.95" y2="288.50" stroke="#111" stroke-width="1.2"/>
<rect x="376.50" y="294.50" width="28.00" height="33.00" fill="#1097b0" stroke="#000" stroke-width="1.4"/>
<path d="M385.70 283.49L385.70 281.39M385.70 283.49L387.70 282.84M385.70 283.49L386.93 285.18M385.70 283.49L384.47 285.18M385.70 283.49L383.70 282.84" stroke="#111" stroke-width="1.15" fill="none"/>
<path d="M390.70 283.49L390.70 281.39M390.70 283.49L392.70 282.84M390.70 283.49L391.93 285.18M390.70 283.49L389.47 285.18M390.70 283.49L388.70 282.84" stroke="#111" stroke-width="1.15" fill="none"/>
<path d="M395.70 283.49L395.70 281.39M395.70 283.49L397.70 282.84M395.70 283.49L396.93 285.18M395.70 283.49L394.47 285.18M395.70 283.49L393.70 282.84" stroke="#111" stroke-width="1.15" fill="none"/>
<line x1="432.50" y1="296.83" x2="432.50" y2="301.83" stroke="#111" stroke-width="1.2"/>
<line x1="424.85" y1="296.50" x2="439.35" y2="296.50" stroke="#111" stroke-width="1.2"/>
<rect x="418.50" y="301.50" width="28.00" height="26.00" fill="#0000ff" stroke="#000" stroke-width="1.4"/>
<path d="M427.10 291.82L427.10 289.72M427.10 291.82L429.10 291.18M427.10 291.82L428.33 293.52M427.10 291.82L425.87 293.52M427.10 291.82L425.10 291.18" stroke="#111" stroke-width="1.15" fill="none"/>
<path d="M432.10 291.82L432.10 289.72M432.10 291.82L434.10 291.18M432.10 291.82L433.33 293.52M432.10 291.82L430.87 293.52M432.10 291.82L430.10 291.18" stroke="#111" stroke-width="1.15" fill="none"/>
<path d="M437.10 291.82L437.10 289.72M437.10 291.82L439.10 291.18M437.10 291.82L438.33 293.52M437.10 291.82L435.87 293.52M437.10 291.82L435.10 291.18" stroke="#111" stroke-width="1.15" fill="none"/>
<text transform="translate(309.75,340.50) scale(0.93,1)" font-size="8.6" text-anchor="middle" font-weight="bold" >Saline</text>
<text transform="translate(349.40,340.50) scale(0.93,1)" font-size="8.6" text-anchor="middle" font-weight="bold" >0.78</text>
<text transform="translate(391.85,340.50) scale(0.93,1)" font-size="8.6" text-anchor="middle" font-weight="bold" >3.9</text>
<text transform="translate(430.30,340.50) scale(0.93,1)" font-size="8.6" text-anchor="middle" font-weight="bold" >7.8</text>
<text x="448.50" y="340.50" font-size="8.7" text-anchor="start" font-weight="normal" >µmol/kg</text>
<line x1="337.30" y1="346.50" x2="449.50" y2="346.50" stroke="#222" stroke-width="1.0"/>
<text transform="translate(388.40,356.50) scale(0.93,1)" font-size="8.6" text-anchor="middle" font-weight="bold" >LENART01</text>
<text x="375.40" y="209.60" font-size="10.5" text-anchor="middle" font-weight="bold" >Phase II</text>
<text transform="translate(258.00,272.90) rotate(-90)" font-size="9" text-anchor="middle" font-weight="bold">Duration of pain behaviour (sec)</text>
<line x1="38.50" y1="392.90" x2="38.50" y2="504.80" stroke="#111" stroke-width="1.4"/>
<line x1="34.90" y1="393.50" x2="38.20" y2="393.50" stroke="#111" stroke-width="1.4"/>
<text transform="translate(33.70,396.40) scale(0.93,1)" font-size="8.6" text-anchor="end" font-weight="bold" >250</text>
<line x1="34.90" y1="415.50" x2="38.20" y2="415.50" stroke="#111" stroke-width="1.4"/>
<text transform="translate(33.70,418.54) scale(0.93,1)" font-size="8.6" text-anchor="end" font-weight="bold" >200</text>
<line x1="34.90" y1="437.50" x2="38.20" y2="437.50" stroke="#111" stroke-width="1.4"/>
<text transform="translate(33.70,440.68) scale(0.93,1)" font-size="8.6" text-anchor="end" font-weight="bold" >150</text>
<line x1="34.90" y1="459.50" x2="38.20" y2="459.50" stroke="#111" stroke-width="1.4"/>
<text transform="translate(33.70,462.82) scale(0.93,1)" font-size="8.6" text-anchor="end" font-weight="bold" >100</text>
<line x1="34.90" y1="482.50" x2="38.20" y2="482.50" stroke="#111" stroke-width="1.4"/>
<text transform="translate(33.70,484.96) scale(0.93,1)" font-size="8.6" text-anchor="end" font-weight="bold" >50</text>
<line x1="34.90" y1="504.50" x2="38.20" y2="504.50" stroke="#111" stroke-width="1.4"/>
<text transform="translate(33.70,507.10) scale(0.93,1)" font-size="8.6" text-anchor="end" font-weight="bold" >0</text>
<line x1="35.00" y1="504.50" x2="174.70" y2="504.50" stroke="#111" stroke-width="1.4"/>
<line x1="60.50" y1="504.20" x2="60.50" y2="507.20" stroke="#111" stroke-width="1.4"/>
<line x1="106.50" y1="504.20" x2="106.50" y2="507.20" stroke="#111" stroke-width="1.4"/>
<line x1="151.50" y1="504.20" x2="151.50" y2="507.20" stroke="#111" stroke-width="1.4"/>
<line x1="60.50" y1="404.39" x2="60.50" y2="409.44" stroke="#111" stroke-width="1.2"/>
<line x1="52.80" y1="404.50" x2="68.30" y2="404.50" stroke="#111" stroke-width="1.2"/>
<rect x="45.50" y="409.50" width="30.00" height="95.00" fill="#606060" stroke="#000" stroke-width="1.4"/>
<line x1="106.50" y1="433.09" x2="106.50" y2="436.45" stroke="#111" stroke-width="1.2"/>
<line x1="98.50" y1="433.50" x2="114.00" y2="433.50" stroke="#111" stroke-width="1.2"/>
<rect x="91.50" y="436.50" width="30.00" height="68.00" fill="#0000ff" stroke="#000" stroke-width="1.4"/>
<path d="M103.10 428.38L103.10 425.78M103.10 428.38L105.57 427.58M103.10 428.38L104.63 430.48M103.10 428.38L101.57 430.48M103.10 428.38L100.63 427.58" stroke="#111" stroke-width="1.25" fill="none"/>
<path d="M109.40 428.38L109.40 425.78M109.40 428.38L111.87 427.58M109.40 428.38L110.93 430.48M109.40 428.38L107.87 430.48M109.40 428.38L106.93 427.58" stroke="#111" stroke-width="1.25" fill="none"/>
<line x1="151.50" y1="405.50" x2="151.50" y2="412.19" stroke="#111" stroke-width="1.2"/>
<line x1="143.65" y1="405.50" x2="159.15" y2="405.50" stroke="#111" stroke-width="1.2"/>
<rect x="136.50" y="412.50" width="30.00" height="92.00" fill="url(#chk)"/>
<rect x="136.50" y="412.50" width="30.00" height="92.00" fill="url(#stripe)"/>
<rect x="136.50" y="412.50" width="30.00" height="92.00" fill="none" stroke="#000" stroke-width="1.4"/>
<path d="M152.00 396.60L151.10 403.10M153.90 396.60L153.00 403.10M150.20 398.94L154.80 398.94M150.20 400.89L154.80 400.89" stroke="#111" stroke-width="1.15" fill="none"/>
<text transform="translate(60.70,517.60) scale(0.93,1)" font-size="8.6" text-anchor="middle" font-weight="bold" >Saline</text>
<text transform="translate(106.00,517.20) scale(0.93,1)" font-size="8.6" text-anchor="middle" font-weight="bold" >LENART01</text>
<text transform="translate(151.80,517.20) scale(0.93,1)" font-size="8.6" text-anchor="middle" font-weight="bold" >LENART01</text>
<text transform="translate(151.50,527.60) scale(0.93,1)" font-size="8.6" text-anchor="middle" font-weight="bold" >+ Naloxone</text>
<text x="108.20" y="386.90" font-size="10.5" text-anchor="middle" font-weight="bold" >Phase I</text>
<text transform="translate(9.40,449.00) rotate(-90)" font-size="9" text-anchor="middle" font-weight="bold">Duration of pain behaviour (sec)</text>
<line x1="286.50" y1="393.30" x2="286.50" y2="504.90" stroke="#111" stroke-width="1.4"/>
<line x1="283.50" y1="393.50" x2="286.80" y2="393.50" stroke="#111" stroke-width="1.4"/>
<text x="282.00" y="396.42" font-size="7" text-anchor="end" font-weight="bold" >600</text>
<line x1="283.50" y1="412.50" x2="286.80" y2="412.50" stroke="#111" stroke-width="1.4"/>
<text x="282.00" y="414.82" font-size="7" text-anchor="end" font-weight="bold" >500</text>
<line x1="283.50" y1="430.50" x2="286.80" y2="430.50" stroke="#111" stroke-width="1.4"/>
<text x="282.00" y="433.22" font-size="7" text-anchor="end" font-weight="bold" >400</text>
<line x1="283.50" y1="449.50" x2="286.80" y2="449.50" stroke="#111" stroke-width="1.4"/>
<text x="282.00" y="451.62" font-size="7" text-anchor="end" font-weight="bold" >300</text>
<line x1="283.50" y1="467.50" x2="286.80" y2="467.50" stroke="#111" stroke-width="1.4"/>
<text x="282.00" y="470.02" font-size="7" text-anchor="end" font-weight="bold" >200</text>
<line x1="283.50" y1="485.50" x2="286.80" y2="485.50" stroke="#111" stroke-width="1.4"/>
<text x="282.00" y="488.42" font-size="7" text-anchor="end" font-weight="bold" >100</text>
<line x1="283.50" y1="504.50" x2="286.80" y2="504.50" stroke="#111" stroke-width="1.4"/>
<text x="282.00" y="506.82" font-size="7" text-anchor="end" font-weight="bold" >0</text>
<line x1="283.50" y1="504.50" x2="422.60" y2="504.50" stroke="#111" stroke-width="1.4"/>
<line x1="309.50" y1="504.30" x2="309.50" y2="507.30" stroke="#111" stroke-width="1.4"/>
<line x1="354.50" y1="504.30" x2="354.50" y2="507.30" stroke="#111" stroke-width="1.4"/>
<line x1="399.50" y1="504.30" x2="399.50" y2="507.30" stroke="#111" stroke-width="1.4"/>
<line x1="309.50" y1="404.02" x2="309.50" y2="410.46" stroke="#111" stroke-width="1.2"/>
<line x1="301.50" y1="404.50" x2="317.00" y2="404.50" stroke="#111" stroke-width="1.2"/>
<rect x="294.50" y="410.50" width="30.00" height="94.00" fill="#606060" stroke="#000" stroke-width="1.4"/>
<line x1="354.50" y1="474.31" x2="354.50" y2="479.28" stroke="#111" stroke-width="1.2"/>
<line x1="346.80" y1="474.50" x2="362.30" y2="474.50" stroke="#111" stroke-width="1.2"/>
<rect x="339.50" y="479.50" width="30.00" height="25.00" fill="#0000ff" stroke="#000" stroke-width="1.4"/>
<path d="M348.55 469.56L348.55 466.91M348.55 469.56L351.07 468.74M348.55 469.56L350.11 471.71M348.55 469.56L346.99 471.71M348.55 469.56L346.03 468.74" stroke="#111" stroke-width="1.25" fill="none"/>
<path d="M354.55 469.56L354.55 466.91M354.55 469.56L357.07 468.74M354.55 469.56L356.11 471.71M354.55 469.56L352.99 471.71M354.55 469.56L352.03 468.74" stroke="#111" stroke-width="1.25" fill="none"/>
<path d="M360.55 469.56L360.55 466.91M360.55 469.56L363.07 468.74M360.55 469.56L362.11 471.71M360.55 469.56L358.99 471.71M360.55 469.56L358.03 468.74" stroke="#111" stroke-width="1.25" fill="none"/>
<line x1="399.50" y1="425.55" x2="399.50" y2="429.23" stroke="#111" stroke-width="1.2"/>
<line x1="391.85" y1="425.50" x2="407.35" y2="425.50" stroke="#111" stroke-width="1.2"/>
<rect x="384.50" y="429.50" width="30.00" height="75.00" fill="url(#chk)"/>
<rect x="384.50" y="429.50" width="30.00" height="75.00" fill="url(#stripe)"/>
<rect x="384.50" y="429.50" width="30.00" height="75.00" fill="none" stroke="#000" stroke-width="1.4"/>
<path d="M395.60 415.80L394.70 422.70M397.50 415.80L396.60 422.70M393.80 418.28L398.40 418.28M393.80 420.35L398.40 420.35M400.60 415.80L399.70 422.70M402.50 415.80L401.60 422.70M398.80 418.28L403.40 418.28M398.80 420.35L403.40 420.35M405.60 415.80L404.70 422.70M407.50 415.80L406.60 422.70M403.80 418.28L408.40 418.28M403.80 420.35L408.40 420.35" stroke="#111" stroke-width="1.15" fill="none"/>
<text transform="translate(309.50,517.60) scale(0.93,1)" font-size="8.6" text-anchor="middle" font-weight="bold" >Saline</text>
<text transform="translate(354.40,517.40) scale(0.93,1)" font-size="8.6" text-anchor="middle" font-weight="bold" >LENART01</text>
<text transform="translate(400.40,517.40) scale(0.93,1)" font-size="8.6" text-anchor="middle" font-weight="bold" >LENART01</text>
<text transform="translate(400.40,527.40) scale(0.93,1)" font-size="8.6" text-anchor="middle" font-weight="bold" >+ Naloxone</text>
<text x="356.70" y="387.00" font-size="10.5" text-anchor="middle" font-weight="bold" >Phase II</text>
<text transform="translate(258.00,449.40) rotate(-90)" font-size="9" text-anchor="middle" font-weight="bold">Duration of pain behaviour (sec)</text>
</svg></body></html>
